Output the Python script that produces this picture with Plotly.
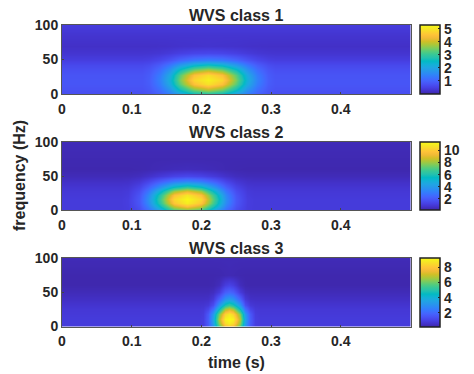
import plotly.graph_objects as go

# class 1
t1 = [0, .115, .125, .14, .155, .17, .19, .21, .23, .25, .265, .28, .295, .305, .5]
f1 = [0, 7, 14, 21, 28, 35, 42, 50, 60, 70, 85, 100]
z1 = [
 [.7,.7,.76,1.0,1.38,1.92,2.55,2.8,2.55,1.92,1.38,1.0,.76,.7,.7],
 [.75,.75,.84,1.2,1.77,2.7,3.6,4.0,3.6,2.7,1.77,1.2,.84,.75,.75],
 [.8,.8,.91,1.38,2.12,3.3,4.5,4.95,4.5,3.3,2.12,1.38,.91,.8,.8],
 [.8,.8,.92,1.44,2.24,3.5,4.8,5.15,4.8,3.5,2.24,1.44,.92,.8,.8],
 [.78,.78,.89,1.36,2.10,3.3,4.5,4.9,4.5,3.3,2.10,1.36,.89,.78,.78],
 [.72,.72,.81,1.17,1.74,2.65,3.5,3.85,3.5,2.65,1.74,1.17,.81,.72,.72],
 [.62,.62,.68,.92,1.3,1.84,2.4,2.65,2.4,1.84,1.3,.92,.68,.62,.62],
 [.45,.45,.48,.6,.78,1.04,1.29,1.39,1.29,1.04,.78,.6,.48,.45,.45],
 [.3,.3,.31,.34,.4,.48,.56,.59,.56,.48,.4,.34,.31,.3,.3],
 [.22,.22,.22,.23,.24,.26,.27,.28,.27,.26,.24,.23,.22,.22,.22],
 [.3,.3,.3,.3,.3,.3,.3,.3,.3,.3,.3,.3,.3,.3,.3],
 [.42,.42,.42,.42,.42,.42,.42,.42,.42,.42,.42,.42,.42,.42,.42],
]
# class 2
t2 = [0, .085, .095, .11, .124, .14, .16, .18, .2, .22, .236, .25, .265, .275, .5]
f2 = [0, 6, 11, 16, 22, 28, 34, 42, 50, 60, 75, 100]
z2 = [
 [1.0,1.0,1.06,1.55,2.57,4.34,6.9,7.6,6.9,4.34,2.57,1.55,1.06,1.0,1.0],
 [1.0,1.0,1.08,1.74,3.11,5.6,8.7,9.8,8.7,5.6,3.11,1.74,1.08,1.0,1.0],
 [1.0,1.0,1.10,1.86,3.44,6.3,9.9,11.0,9.9,6.3,3.44,1.86,1.10,1.0,1.0],
 [1.0,1.0,1.10,1.90,3.57,6.6,10.4,11.3,10.4,6.6,3.57,1.90,1.10,1.0,1.0],
 [.95,.95,1.04,1.79,3.34,6.2,9.7,10.8,9.7,6.2,3.34,1.79,1.04,.95,.95],
 [.9,.9,.98,1.58,2.83,5.1,8.0,9.0,8.0,5.1,2.83,1.58,.98,.9,.9],
 [.8,.8,.85,1.28,2.16,3.70,5.6,6.4,5.6,3.70,2.16,1.28,.85,.8,.8],
 [.6,.6,.63,.84,1.29,2.08,2.92,3.3,2.92,2.08,1.29,.84,.63,.6,.6],
 [.4,.4,.41,.49,.66,.95,1.26,1.4,1.26,.95,.66,.49,.41,.4,.4],
 [.25,.25,.25,.27,.30,.36,.42,.45,.42,.36,.30,.27,.25,.25,.25],
 [.3,.3,.3,.3,.3,.3,.3,.3,.3,.3,.3,.3,.3,.3,.3],
 [.4,.4,.4,.4,.4,.4,.4,.4,.4,.4,.4,.4,.4,.4,.4],
]
# class 3
t3 = [0, .196, .203, .21, .217, .225, .234, .24, .246, .255, .263, .27, .277, .284, .5]
f3 = [0, 5, 11, 18, 25, 32, 40, 50, 60, 75, 100]
z3 = [
 [.9,.9,.97,1.64,3.08,5.6,7.6,8.0,7.6,5.6,3.08,1.64,.97,.9,.9],
 [.9,.9,.98,1.75,3.41,6.4,8.6,9.0,8.6,6.4,3.41,1.75,.98,.9,.9],
 [.9,.9,.99,1.80,3.57,6.8,9.1,9.3,9.1,6.8,3.57,1.80,.99,.9,.9],
 [.85,.85,.93,1.68,3.30,6.2,8.4,8.9,8.4,6.2,3.30,1.68,.93,.85,.85],
 [.8,.8,.85,1.2,2.2,4.5,6.7,7.2,6.7,4.5,2.2,1.2,.85,.8,.8],
 [.7,.7,.72,.85,1.4,3.2,4.9,5.4,4.9,3.2,1.4,.85,.72,.7,.7],
 [.55,.55,.55,.58,.85,1.9,3.1,3.4,3.1,1.9,.85,.58,.55,.55,.55],
 [.4,.4,.4,.41,.5,.9,1.8,2.0,1.8,.9,.5,.41,.4,.4,.4],
 [.28,.28,.28,.28,.3,.45,.95,1.1,.95,.45,.3,.28,.28,.28,.28],
 [.28,.28,.28,.28,.28,.29,.33,.35,.33,.29,.28,.28,.28,.28,.28],
 [.38,.38,.38,.38,.38,.38,.38,.38,.38,.38,.38,.38,.38,.38,.38],
]
titles = ["WVS class 1", "WVS class 2", "WVS class 3"]
zranges = [(0.0, 5.3), (0.15, 11.4), (0.2, 9.3)]
cb_ticks = [[1, 2, 3, 4, 5], [2, 4, 6, 8, 10], [2, 4, 6, 8]]
x_ticks = [0, .1, .2, .3, .4]
x_labels = ["0", "0.1", "0.2", "0.3", "0.4"]
y_ticks = [0, 50, 100]

parula_rgb = [
 (.2422,.1504,.6603),(.2647,.1978,.7952),(.2783,.2559,.8991),(.2810,.3228,.9579),
 (.2699,.3892,.9906),(.2206,.4603,.9973),(.1786,.5289,.9682),(.1540,.5902,.9218),
 (.1248,.6459,.8883),(.0689,.6948,.8394),(.0067,.7312,.7660),(.1408,.7584,.6842),
 (.2161,.7843,.5923),(.3406,.8008,.4789),(.5044,.7993,.3480),(.6720,.7793,.2227),
 (.8203,.7498,.1535),(.9393,.7288,.2100),(.9970,.7659,.2199),(.9786,.8386,.1766),
 (.9597,.9135,.1423),(.9769,.9839,.0805),
]
n = len(parula_rgb) - 1
parula = [[i / n, f"rgb({r*255:.0f},{g*255:.0f},{b*255:.0f})"] for i, (r, g, b) in enumerate(parula_rgb)]

W, H = 474, 374
X0, X1 = 62, 410.5
CB0, CB1 = 419.5, 439
PANELS = [(25, 94), (142, 210), (258, 326.5)]
TXT = "#262626"
FONT = "Liberation Sans"
TICK = dict(family=FONT, size=14, color=TXT, weight="bold")
LABEL = dict(family=FONT, size=16, color=TXT, weight="bold")

fig = go.Figure()
annotations = []
for i, (t, f, z) in enumerate([(t1, f1, z1), (t2, f2, z2), (t3, f3, z3)]):
    top, bot = PANELS[i]
    s = "" if i == 0 else str(i + 1)
    fig.add_trace(go.Heatmap(
        x=t, y=f, z=z, zsmooth="best", colorscale=parula,
        zmin=zranges[i][0], zmax=zranges[i][1],
        xaxis="x" + s, yaxis="y" + s,
        colorbar=dict(
            x=CB0 / W, xanchor="left", xref="paper", y=1 - bot / H, yanchor="bottom", yref="paper",
            len=(bot - top) / H, lenmode="fraction", thickness=CB1 - CB0, thicknessmode="pixels",
            tickvals=cb_ticks[i], ticks="inside", ticklen=2, tickcolor="#222222",
            tickfont=TICK, outlinecolor="#222222", outlinewidth=1.5, ypad=0, xpad=0,
        ),
    ))
    fig.update_layout({
        "xaxis" + s: dict(
            domain=[X0 / W, X1 / W], range=[0, 0.5], anchor="y" + s,
            tickvals=x_ticks, ticktext=x_labels, ticks="inside", ticklen=2, tickcolor="#444",
            showgrid=False, zeroline=False, showline=True, linecolor="#555", linewidth=1, mirror=True,
            tickfont=TICK, ticklabelstandoff=2,
        ),
        "yaxis" + s: dict(
            domain=[1 - bot / H, 1 - top / H], range=[0, 100], anchor="x" + s,
            tickvals=y_ticks, ticks="inside", ticklen=2, tickcolor="#444",
            showgrid=False, zeroline=False, showline=True, linecolor="#555", linewidth=1, mirror=True,
            tickfont=TICK,
        ),
    })
    annotations.append(dict(
        text=titles[i], x=(X0 + X1) / 2 / W, y=1 - (top - 9.5) / H, xref="paper", yref="paper",
        xanchor="center", yanchor="middle", showarrow=False, font=LABEL,
    ))

annotations.append(dict(
    text="time (s)", x=236 / W, y=1 - 362 / H, xref="paper", yref="paper",
    xanchor="center", yanchor="middle", showarrow=False, font=LABEL,
))
annotations.append(dict(
    text="frequency (Hz)", x=19 / W, y=1 - 176 / H, xref="paper", yref="paper",
    xanchor="center", yanchor="middle", textangle=-90, showarrow=False, font=LABEL,
))
fig.update_layout(
    width=W, height=H, margin=dict(l=0, r=0, t=0, b=0, autoexpand=False),
    paper_bgcolor="white", plot_bgcolor="white", showlegend=False, annotations=annotations,
)
fig.write_html("out.html", config={"displayModeBar": False},
               post_script="document.body.style.margin='0';document.documentElement.style.overflow='hidden';")
